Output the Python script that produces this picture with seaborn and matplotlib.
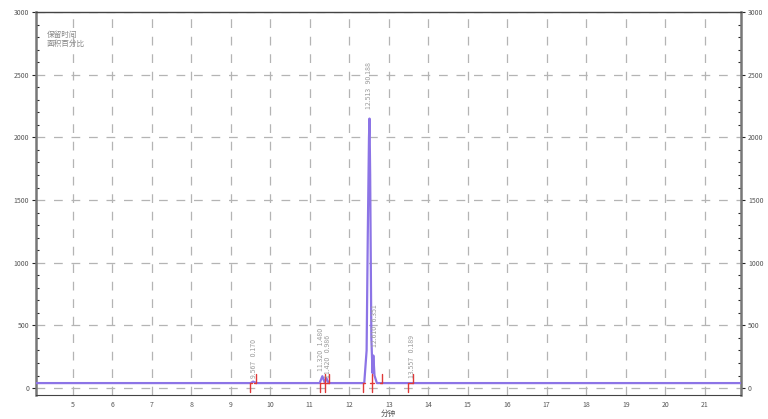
import matplotlib
matplotlib.use("Agg")
import matplotlib.pyplot as plt
from matplotlib.ticker import MultipleLocator
import seaborn as sns
import pandas as pd

# ---- data ----
times = [4.07, 9.50, 9.567, 9.65, 11.25, 11.32, 11.38, 11.42, 11.48, 12.38,
         12.44, 12.47, 12.50, 12.513, 12.53, 12.56, 12.59, 12.61, 12.64, 12.70, 21.92]
signal = [40, 40, 52, 40, 40, 95, 45, 80, 40, 40,
          300, 1230, 2000, 2150, 1700, 400, 120, 260, 100, 40, 40]

peak_rt = [9.567, 11.320, 11.420, 12.513, 12.610, 13.557]
peak_area = ["0.170", "1.480", "0.986", "90.188", "6.351", "0.189"]
peak_start = [9.50, 11.25, 11.38, 12.35, 12.58, 13.50]
peak_end = [9.65, 11.38, 11.48, 12.58, 12.82, 13.62]
label_y = [50, 110, 50, 2200, 300, 50]
label_dx = [0.03, -0.03, 0.05, 0.0, 0.05, 0.03]

x_ticks = list(range(5, 22))
y_ticks = [0, 500, 1000, 1500, 2000, 2500, 3000]

sns.set_style("white")
plt.rcParams['font.family'] = ['Noto Sans CJK SC', 'DejaVu Sans']

fig = plt.figure(figsize=(7.68, 4.19), dpi=100)
ax = fig.add_axes([0.0469, 0.0573, 0.918, 0.914])

df = pd.DataFrame({"t": times, "s": signal})
sns.lineplot(data=df, x="t", y="s", ax=ax, color="#8c74e6", lw=1.6, zorder=3)

ax.set_xlim(4.07, 21.92)
ax.set_ylim(-55, 3000)

# grid
for xv in x_ticks:
    ax.axvline(xv, color="#b4b4b4", lw=0.9, ls=(0, (7, 7)), zorder=1)
for yv in y_ticks:
    ax.axhline(yv, color="#b4b4b4", lw=0.9, ls=(0, (7, 7)), zorder=1)

# peak start/end markers
red = "#e03838"
for s, e in zip(peak_start, peak_end):
    ax.plot([s, s], [-30, 40], color=red, lw=1.0, zorder=4)
    ax.plot([s, s + 0.05], [40, 40], color=red, lw=1.0, zorder=4)
    ax.plot([e, e], [40, 110], color=red, lw=1.0, zorder=4)
    ax.plot([e - 0.05, e], [40, 40], color=red, lw=1.0, zorder=4)

# peak labels
for rt, ar, ly, dx in zip(peak_rt, peak_area, label_y, label_dx):
    ax.text(rt + dx, ly + 30, f"{rt:.3f}   {ar}", rotation=90, fontsize=5,
            color="#9a9a9a", ha="center", va="bottom", zorder=5)

# ticks
ax.set_xticks(x_ticks)
ax.set_xticklabels([str(v) for v in x_ticks])
ax.xaxis.set_minor_locator(MultipleLocator(0.1))
ax.set_yticks(y_ticks)
ax.set_yticklabels([str(v) for v in y_ticks])
ax.yaxis.set_minor_locator(MultipleLocator(100))
ax.tick_params(axis="x", which="major", direction="out", length=3, width=0.8,
               labelsize=5, colors="#333333", labelcolor="#555555", pad=1)
ax.tick_params(axis="x", which="minor", direction="out", length=2.5, width=0.7, colors="#333333")
ax.tick_params(axis="y", which="major", direction="out", length=3, width=0.8,
               labelsize=5, labelcolor="#555555", left=True, right=True,
               labelleft=True, labelright=True, pad=2)
ax.tick_params(axis="y", which="minor", direction="in", length=2.5, width=0.8,
               left=True, right=True)

for side in ["left", "right"]:
    ax.spines[side].set_color("#777777")
    ax.spines[side].set_linewidth(1.8)
ax.spines["top"].set_color("#444444")
ax.spines["top"].set_linewidth(1.0)
ax.spines["bottom"].set_color("#444444")
ax.spines["bottom"].set_linewidth(0.8)

ax.set_xlabel("分钟", fontsize=5.5, color="#555555", labelpad=1)
ax.set_ylabel("")

ax.text(0.015, 0.95, "保留时间\n面积百分比", transform=ax.transAxes, fontsize=5.5,
        color="#888888", va="top", ha="left", linespacing=1.2)

fig.savefig("out.png", dpi=100)
